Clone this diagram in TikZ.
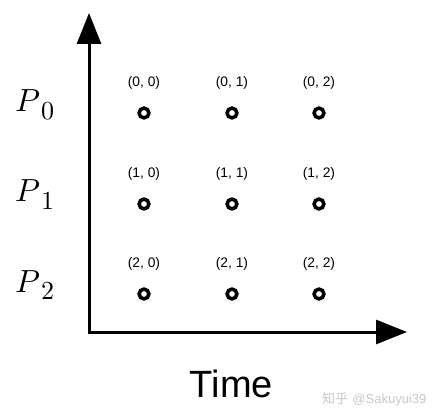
\documentclass[tikz,border=0pt]{standalone}
\usepackage{fontspec}
\usepackage{unicode-math}
\setmathfont{Latin Modern Math}
\setsansfont{Liberation Sans}
\newfontfamily\cjk{Noto Sans CJK SC}
\usetikzlibrary{arrows.meta}
\newcommand{\procname}[1]{{\fontsize{32}{34}\selectfont$P$}\kern1pt\raisebox{-7.5pt}{\fontsize{26}{28}\selectfont$#1$}}
\tikzset{
  axis/.style={line width=3pt, line join=miter, {Triangle[length=31pt,width=24pt]}-{Triangle[length=31pt,width=24pt]}},
  dot/.style={circle, draw, line width=3.5pt, minimum size=9.8pt, inner sep=0pt},
  coordlabel/.style={font=\sffamily\fontsize{13.8}{15}\selectfont, inner sep=0pt},
  proclabel/.style={anchor=base west, inner sep=0pt},
}
\begin{document}
\begin{tikzpicture}[x=1pt,y=-1pt]
\useasboundingbox (0,0) rectangle (440,420);
\fill[white] (0,0) rectangle (440,420);
\coordinate (top) at (89,13);
\coordinate (corner) at (89,332);
\coordinate (right) at (407,332);
\draw[axis] (top) -- (corner) -- (right);
\foreach \r/\y in {0/113,1/204,2/294}{
  \foreach \c/\x in {0/144,1/232,2/319}{
    \node[dot] (d\r\c) at (\x,\y) {};
    \node[coordlabel] (l\r\c) at (\x,\y-30) {(\r, \c)};
  }
}
\node[proclabel] (p0) at (15,112) {\procname{0}};
\node[proclabel] (p1) at (15,202) {\procname{1}};
\node[proclabel] (p2) at (15,292) {\procname{2}};
\node[font=\sffamily\fontsize{38}{40}\selectfont, anchor=base, inner sep=0pt] (time) at (231.5,397) {Time};
\node[font=\fontsize{13}{14}\selectfont, text=black!22, anchor=west, inner sep=0pt] (wm) at (322,399) {{\cjk 知乎} {\sffamily @Sakuyui39}};
\end{tikzpicture}
\end{document}
